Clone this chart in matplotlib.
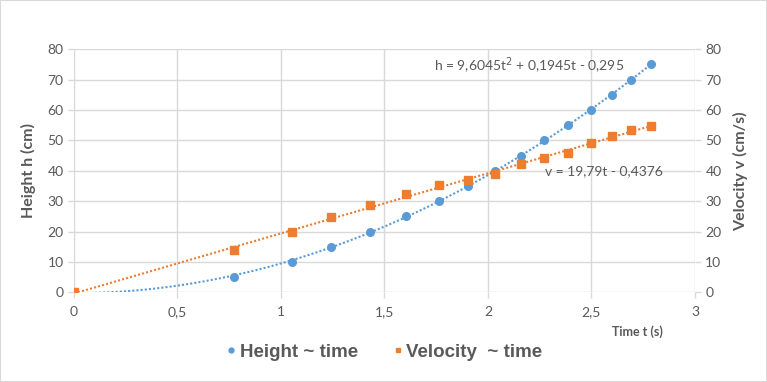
import numpy as np
import matplotlib
matplotlib.use("Agg")
import matplotlib.pyplot as plt
from matplotlib.lines import Line2D
from matplotlib.patches import Rectangle

plt.rcParams['font.family'] = ['Lato', 'DejaVu Sans']

# measured data
time = [0, 0.773, 1.053, 1.242, 1.43, 1.606, 1.763, 1.903, 2.034, 2.159,
        2.271, 2.386, 2.498, 2.599, 2.691, 2.789]
height = [0, 5, 10, 15, 20, 25, 30, 35, 40, 45, 50, 55, 60, 65, 70, 75]
velocity = [0, 13.9, 19.7, 24.7, 28.6, 32.2, 35.2, 36.9, 39.1, 42.4,
            44.2, 45.7, 49.3, 51.6, 53.3, 54.6]

x_ticks = [0, 0.5, 1, 1.5, 2, 2.5, 3]
x_ticklabels = ['0', '0,5', '1', '1,5', '2', '2,5', '3']
y_ticks = list(range(0, 81, 10))

blue = '#5B9BD5'
orange = '#ED7D31'
grid_c = '#D9D9D9'
text_c = '#595959'

fig = plt.figure(figsize=(7.67, 3.82), dpi=100)
ax = fig.add_axes([0.0965, 0.2348, 0.8095, 0.6362])
ax2 = ax.twinx()

# trendlines
h_coef = np.polyfit(time, height, 2)
v_coef = np.polyfit(time, velocity, 1)
tt = np.linspace(0, max(time), 200)
ax.plot(tt, np.polyval(h_coef, tt), color=blue, lw=1.5, ls=(0, (1, 1)), zorder=2)
ax2.plot(tt, np.polyval(v_coef, tt), color=orange, lw=1.5, ls=(0, (1, 1)), zorder=2)

ax.plot(time, height, 'o', color=blue, ms=5.5, zorder=3)
ax2.plot(time, velocity, 's', color=orange, ms=5.5, zorder=3)

for a in (ax, ax2):
    a.set_xlim(0, 3)
    a.set_ylim(0, 80)
    a.set_yticks(y_ticks)
    for s in a.spines.values():
        s.set_visible(False)
    a.tick_params(colors=grid_c, labelcolor=text_c, labelsize=10, length=4, width=1)

ax.set_xticks(x_ticks)
ax.set_xticklabels(x_ticklabels)
ax.grid(True, color=grid_c, lw=1)
ax.set_axisbelow(True)
ax.tick_params(axis='x', pad=6)

ax.set_ylabel('Height h (cm)', color=text_c, fontsize=11.5, fontweight='bold', labelpad=8)
ax2.set_ylabel('Velocity v (cm/s)', color=text_c, fontsize=11.5, fontweight='bold', labelpad=8)
ax.text(0.948, -0.16, 'Time t (s)', transform=ax.transAxes, ha='right', va='center',
        fontsize=9, fontweight='bold', color=text_c)

ax.text(2.2, 74.5, 'h = 9,6045t$^2$ + 0,1945t - 0,295', ha='center', va='center',
        fontsize=10, color=text_c)
ax.text(2.56, 39.8, 'v = 19,79t - 0,4376', ha='center', va='center',
        fontsize=10, color=text_c)

handles = [Line2D([], [], marker='o', color=blue, ls='none', ms=3.5),
           Line2D([], [], marker='s', color=orange, ls='none', ms=3.5)]
fig.legend(handles, ['Height ~ time', 'Velocity  ~ time'], loc='center',
           bbox_to_anchor=(0.5, 1 - 352 / 382), ncol=2, frameon=False,
           prop={'family': 'Liberation Sans', 'size': 13.5, 'weight': 'bold'},
           labelcolor=text_c, handletextpad=0.1, columnspacing=1.8,
           handlelength=0.7)

fig.patches.append(Rectangle((0, 0), 1, 1, transform=fig.transFigure, fill=False,
                             edgecolor=grid_c, lw=1.5))

fig.savefig('out.png', dpi=100)
